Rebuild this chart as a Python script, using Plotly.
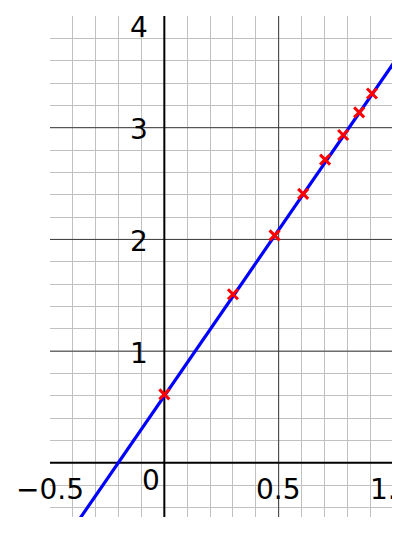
import plotly.graph_objects as go

# measured points (red crosses)
pts_x = [0.0, 0.300, 0.482, 0.607, 0.703, 0.782, 0.852, 0.908]
pts_y = [0.613, 1.509, 2.036, 2.408, 2.714, 2.935, 3.137, 3.306]

# fitted line, end points
fit_x = [-0.40, 1.05]
fit_y = [-0.59, 3.72]

x_tick_vals = [-0.5, 0.5]
x_tick_text = ["\u22120.5", "0.5"]
y_tick_vals = [1, 2, 3, 4]
y_tick_text = ["1", "2", "3", "4"]

font = "DejaVu Sans"
minor_grey = "#c0c0c0"
major_grey = "#3a3a3a"

fig = go.Figure()

fig.add_trace(go.Scatter(x=fit_x, y=fit_y, mode="lines",
                         line=dict(color="#0000ff", width=3.2), hoverinfo="skip"))
fig.add_trace(go.Scatter(x=pts_x, y=pts_y, mode="markers",
                         marker=dict(symbol="x-thin", size=10, color="red",
                                     line=dict(color="red", width=3))))

# hide grid to the right of x = 1 (line keeps running there)
fig.add_shape(type="rect", x0=1.003, x1=1.1, y0=-1, y1=5, xref="x", yref="y",
              fillcolor="white", line_width=0, layer="between")

# darker major lines
fig.add_shape(type="line", x0=0.5, x1=0.5, y0=-0.485, y1=4, xref="x", yref="y",
              line=dict(color=major_grey, width=1), layer="between")
for v in [1, 2, 3]:
    fig.add_shape(type="line", x0=-0.5, x1=1.0, y0=v, y1=v, xref="x", yref="y",
                  line=dict(color=major_grey, width=1), layer="between")

# axes through the origin
fig.add_shape(type="line", x0=0, x1=0, y0=-0.485, y1=4, xref="x", yref="y",
              line=dict(color="black", width=2), layer="between")
fig.add_shape(type="line", x0=-0.5, x1=1.0, y0=0, y1=0, xref="x", yref="y",
              line=dict(color="black", width=2), layer="between")

annots = []
for v, t in zip(x_tick_vals, x_tick_text):
    annots.append(dict(x=v, y=0, text=t, xref="x", yref="y", showarrow=False,
                       xanchor="center", yanchor="middle", yshift=-27))
# the "1.0" label is cut at the page edge in the original, only "1." shows
annots.append(dict(x=1.0, y=0, text="1.", xref="x", yref="y", showarrow=False,
                   xanchor="left", yanchor="middle", xshift=-25, yshift=-27))
annots.append(dict(x=0, y=0, text="0", xref="x", yref="y", showarrow=False,
                   xanchor="center", yanchor="middle", xshift=-13, yshift=-18))
for v, t in zip(y_tick_vals, y_tick_text):
    if v == 4:
        # top label: keep its box inside the page
        annots.append(dict(x=0, y=v, text=t, xref="x", yref="y", showarrow=False,
                           xanchor="right", yanchor="top", xshift=-14, yshift=7))
    else:
        annots.append(dict(x=0, y=v, text=t, xref="x", yref="y", showarrow=False,
                           xanchor="right", yanchor="middle", xshift=-14, yshift=-2))

fig.update_layout(
    width=392, height=525,
    margin=dict(l=42, r=0, t=8, b=16),
    plot_bgcolor="white", paper_bgcolor="white",
    showlegend=False,
    font=dict(family=font, size=28, color="black"),
    annotations=annots,
    xaxis=dict(range=[-0.5, 1.0306], dtick=0.1, tick0=0, showgrid=True,
               gridcolor=minor_grey, gridwidth=1, zeroline=False,
               showticklabels=False, ticks="", showline=False),
    yaxis=dict(range=[-0.485, 4], dtick=0.2, tick0=0, showgrid=True,
               gridcolor=minor_grey, gridwidth=1, zeroline=False,
               showticklabels=False, ticks="", showline=False),
)

fig.write_html("out.html")
